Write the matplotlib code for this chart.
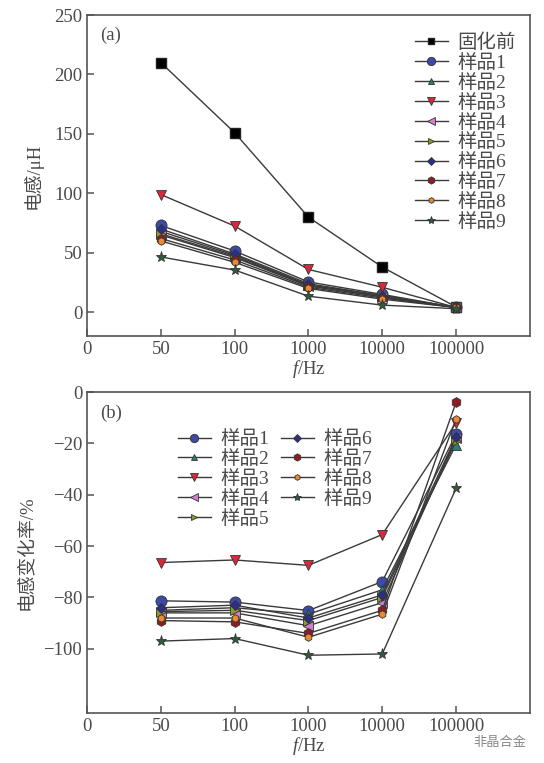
import numpy as np
import matplotlib.pyplot as plt

plt.rcParams['font.family'] = ['Liberation Serif', 'Noto Sans CJK SC']
plt.rcParams['mathtext.fontset'] = 'custom'
plt.rcParams['mathtext.rm'] = 'Liberation Serif'
plt.rcParams['mathtext.it'] = 'Liberation Serif:italic'
plt.rcParams['axes.unicode_minus'] = True

# frequences (categories, positions 1..5)
freq_labels = ["0", "50", "100", "1000", "10000", "100000"]
xpos = [1, 2, 3, 4, 5]

# inductance (uH)
L_before = [210, 151, 80, 38, 4.5]
L_s1 = [73, 51.5, 25.5, 15, 4]
L_s2 = [68, 48, 23, 14, 4]
L_s3 = [99, 72.5, 36, 21, 4]
L_s4 = [65, 46, 22, 13, 4]
L_s5 = [66, 47, 22.5, 13, 4]
L_s6 = [70, 49, 24, 14, 4]
L_s7 = [62, 44, 21, 12, 4]
L_s8 = [60, 42, 20, 11, 4]
L_s9 = [46.5, 35.5, 13.5, 6, 3]

# variation rate (%)
R_s1 = [-81.3, -81.8, -85.1, -73.8, -16.5]
R_s2 = [-85, -84, -86.5, -77, -20.5]
R_s3 = [-66.4, -65.4, -67.5, -55.5, -12]
R_s4 = [-86, -86, -91, -82, -18]
R_s5 = [-85.5, -85, -89, -80, -19]
R_s6 = [-84, -83, -88, -79, -17.5]
R_s7 = [-89, -89.5, -94, -85, -4]
R_s8 = [-88, -88, -95.5, -86.5, -10.5]
R_s9 = [-97, -96, -102.5, -102, -37.5]

names = ["样品1", "样品2", "样品3", "样品4", "样品5", "样品6", "样品7", "样品8", "样品9"]
markers = ["o", "^", "v", "<", ">", "D", "h", "h", "*"]
colors = ["#3b4ba6", "#2f7f72", "#d8283c", "#d07fd0", "#8f9a2a", "#2b2f86", "#8e1c22", "#ea8a32", "#2f5c3c"]
sizes = [8, 6.5, 7, 7, 6.5, 5.5, 7, 5.5, 8]

L_all = [L_s1, L_s2, L_s3, L_s4, L_s5, L_s6, L_s7, L_s8, L_s9]
R_all = [R_s1, R_s2, R_s3, R_s4, R_s5, R_s6, R_s7, R_s8, R_s9]

txt = "#4a4a4a"
line_c = "#3a3a3a"

fig = plt.figure(figsize=(5.44, 7.63), dpi=100)
ax1 = fig.add_axes([0.160, 0.5596, 0.814, 0.4207])
ax2 = fig.add_axes([0.160, 0.0655, 0.814, 0.4207])

def style_axes(ax):
    for s in ax.spines.values():
        s.set_color("#555555")
        s.set_linewidth(1.2)
    ax.tick_params(direction="in", length=5, width=1.1, colors="#555555",
                   labelcolor=txt, labelsize=13.5, top=False, right=False)
    ax.set_xlim(0, 6)
    ax.set_xticks(range(6))
    ax.set_xticklabels(freq_labels)
    ax.set_xlabel("$f$/Hz", fontsize=13.5, color=txt, labelpad=0)

# (a)
ax1.plot(xpos, L_before, color=line_c, lw=1, marker="s", ms=6.5,
         mfc="black", mec="#222222", label="固化前")
for i in range(9):
    ax1.plot(xpos, L_all[i], color=line_c, lw=1, marker=markers[i], ms=sizes[i],
             mfc=colors[i], mec="#333333", mew=0.6, label=names[i])
style_axes(ax1)
ax1.set_ylim(-20, 250)
ax1.set_yticks([0, 50, 100, 150, 200, 250])
ax1.set_ylabel("电感/μH", fontsize=13.5, color=txt, labelpad=8)
ax1.text(0.03, 0.938, "(a)", transform=ax1.transAxes, fontsize=13.5, color=txt, va="center")
leg1 = ax1.legend(loc="upper right", bbox_to_anchor=(1.0, 0.985), frameon=False,
                  fontsize=14, labelspacing=0.1, handlelength=1.7,
                  handletextpad=0.5, markerscale=0.75, borderaxespad=0.3)
for t in leg1.get_texts():
    t.set_color(txt)

# (b)
for i in range(9):
    ax2.plot(xpos, R_all[i], color=line_c, lw=1, marker=markers[i], ms=sizes[i],
             mfc=colors[i], mec="#333333", mew=0.6, label=names[i])
style_axes(ax2)
ax2.set_ylim(-125, 0)
ax2.set_yticks([0, -20, -40, -60, -80, -100])
ax2.set_ylabel("电感变化率/%", fontsize=13.5, color=txt, labelpad=6)
ax2.text(0.03, 0.935, "(b)", transform=ax2.transAxes, fontsize=13.5, color=txt, va="center")
leg2 = ax2.legend(loc="upper left", bbox_to_anchor=(0.165, 0.935), frameon=False, ncol=2,
                  fontsize=14, labelspacing=0.1, handlelength=1.7,
                  handletextpad=0.5, columnspacing=0.6, markerscale=0.75)
for t in leg2.get_texts():
    t.set_color(txt)

fig.text(0.87, 0.022, "非晶合金", fontsize=9.5, color="#888888", family="Noto Sans CJK SC")

fig.savefig("out.png", dpi=100)
